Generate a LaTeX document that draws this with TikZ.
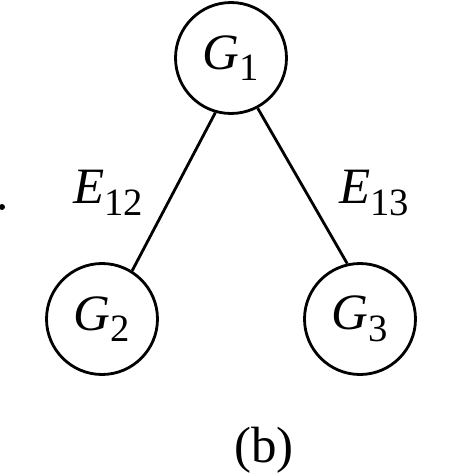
\documentclass[tikz,border=0pt]{standalone}
\usepackage{fontspec}
\setmainfont{Liberation Serif}
\newcommand{\lbl}[2]{\textit{#1}\raisebox{-0.23em}{\fontsize{22}{25}\selectfont #2}}
\begin{document}
\begin{tikzpicture}[x=0.02cm,y=-0.02cm,
    graphnode/.style={draw,circle,line width=1.6pt,minimum size=2.22cm,inner sep=0pt,font=\fontsize{29}{32}\selectfont},
    edgelabel/.style={font=\fontsize{29}{32}\selectfont}]
    \useasboundingbox (0,0) rectangle (474,474);
    % Knoten
    \node[graphnode] (G1) at (231,58) {\lbl{G}{1}};
    \node[graphnode] (G2) at (102,319) {\lbl{G}{2}};
    \node[graphnode] (G3) at (360,319) {\lbl{G}{3}};
    % Kanten
    \draw[line width=1.6pt] (G1.254) -- (G2.58);
    \draw[line width=1.6pt] (G1.298) -- (G3.103);
    \node[edgelabel] (E12) at (108,193) {\lbl{E}{12}};
    \node[edgelabel] (E13) at (374,193) {\lbl{E}{13}};
    % Punkt links
    \fill (2,207) circle (3);
    \node[edgelabel] (cap) at (264,450) {(b)};
\end{tikzpicture}
\end{document}
